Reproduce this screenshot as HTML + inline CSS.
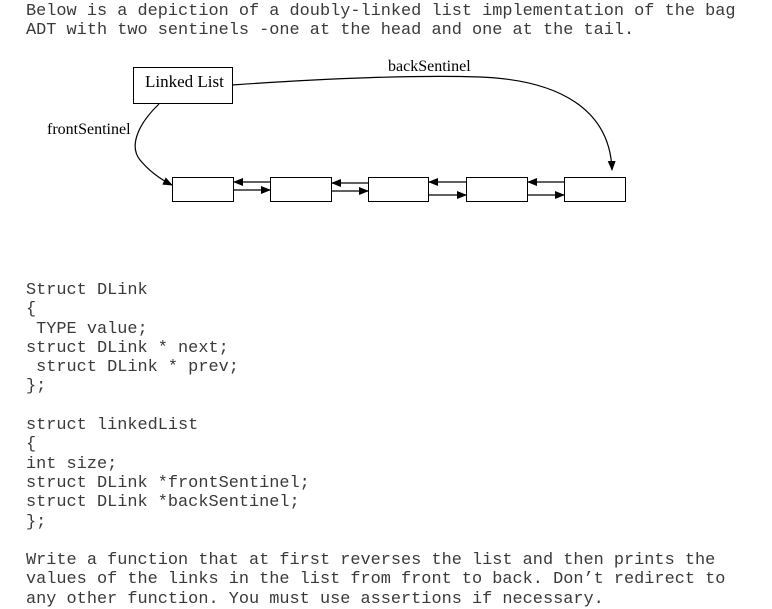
<!DOCTYPE html>
<html><head><style>
body{margin:0;width:772px;height:606px;background:#fff;position:relative;overflow:hidden}
.m{position:absolute;left:26px;font-family:"Liberation Mono",monospace;font-size:16.9px;line-height:19.3px;white-space:pre;color:#3a3a3a}
.s{position:absolute;font-family:"Liberation Serif",serif;color:#000}
</style></head><body>
<div class="m" style="top:2px">Below is a depiction of a doubly-linked list implementation of the bag
ADT with two sentinels -one at the head and one at the tail.</div>
<svg width="772" height="240" style="position:absolute;left:0;top:0">
<defs><marker id="a" markerWidth="10" markerHeight="8" refX="9" refY="4" orient="auto" markerUnits="userSpaceOnUse"><path d="M0,0L10,4L0,8z" fill="#000"/></marker></defs>
<rect x="133.5" y="67.5" width="99" height="36" fill="#fff" stroke="#000"/>
<g fill="#fff" stroke="#000">
<rect x="172.5" y="177.5" width="61" height="24"/>
<rect x="270.5" y="177.5" width="61" height="24"/>
<rect x="368.5" y="177.5" width="60" height="24"/>
<rect x="466.5" y="177.5" width="61" height="24"/>
<rect x="564.5" y="177.5" width="61" height="24"/>
</g>
<g stroke="#000" stroke-width="1.2" fill="none" marker-end="url(#a)">
<path d="M232,85 C330,78 420,75 480,77 C560,80 610,110 612,170"/>
<path d="M159,104 C140,122 128,145 140,160 C150,172 162,180 172,185"/>
<path d="M270,182 L234,182"/><path d="M234,190 L270,190"/>
<path d="M368,183 L332,183"/><path d="M332,191 L368,191"/>
<path d="M466,182 L429,182"/><path d="M429,195 L466,195"/>
<path d="M564,182 L528,182"/><path d="M528,195 L564,195"/>
</g>
</svg>
<div class="s" style="left:145px;top:72px;font-size:17px">Linked List</div>
<div class="s" style="left:388px;top:58px;font-size:16px">backSentinel</div>
<div class="s" style="left:47px;top:121px;font-size:16px">frontSentinel</div>
<div class="m" style="top:281px">Struct DLink
{
 TYPE value;
struct DLink * next;
 struct DLink * prev;
};

struct linkedList
{
int size;
struct DLink *frontSentinel;
struct DLink *backSentinel;
};

Write a function that at first reverses the list and then prints the
values of the links in the list from front to back. Don’t redirect to
any other function. You must use assertions if necessary.</div>
</body></html>
